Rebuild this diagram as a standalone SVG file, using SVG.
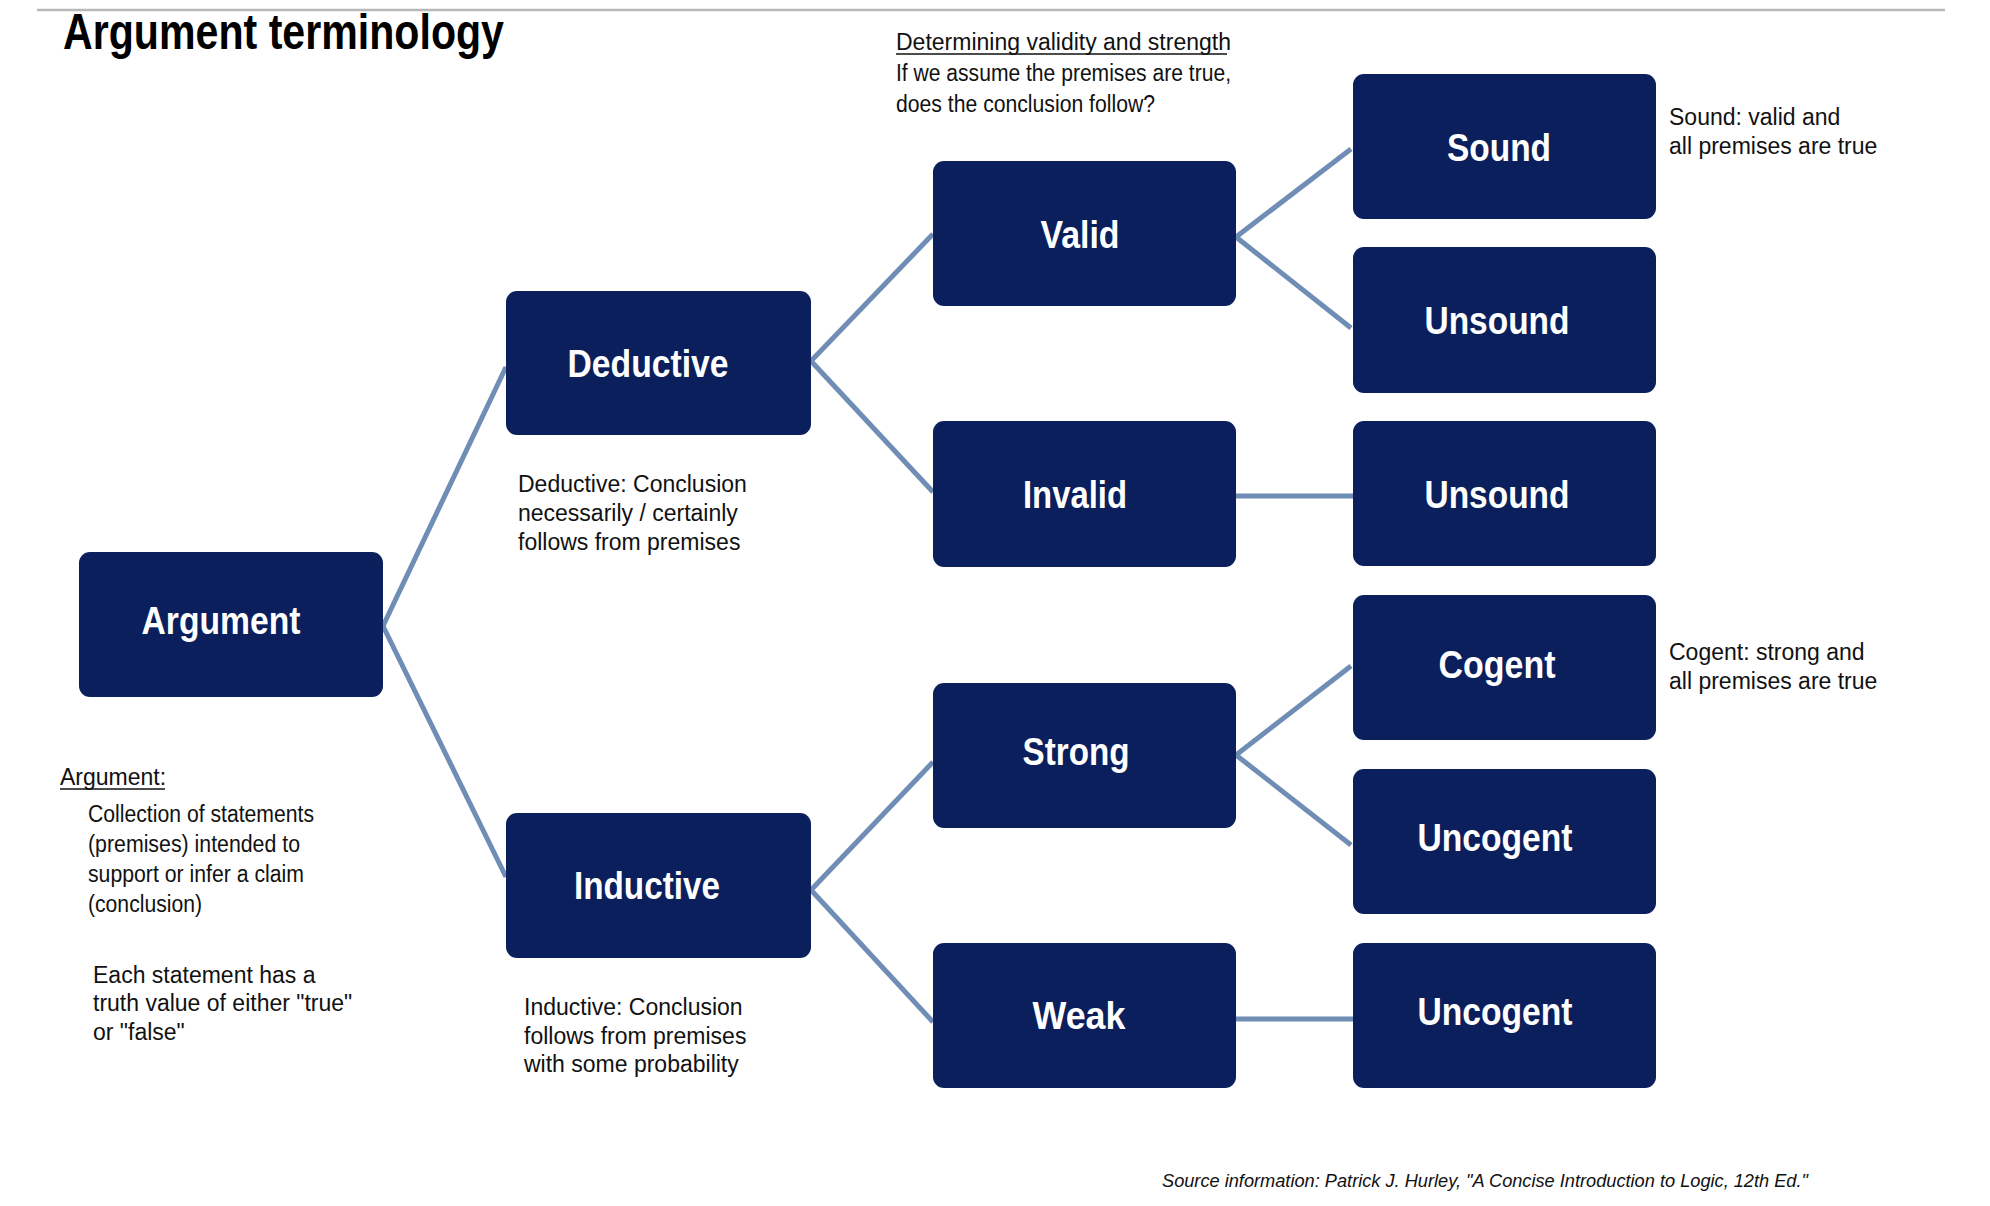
<svg xmlns="http://www.w3.org/2000/svg" width="1990" height="1206" viewBox="0 0 1990 1206">
<style>
.box{fill:#0b1f5c;}
.lbl{font-family:"Liberation Sans",Arial,sans-serif;font-weight:bold;font-size:38px;fill:#ffffff;text-anchor:middle;}
.note{font-family:"Liberation Sans",Arial,sans-serif;font-size:23px;fill:#111111;}
.conn line{stroke:#6f8db5;stroke-width:5;stroke-linecap:butt;}
.ul{stroke:#111111;stroke-width:1.5;}
</style>
<rect width="1990" height="1206" fill="#ffffff"/>
<line x1="37" y1="10" x2="1945" y2="10" stroke="#b8b8b8" stroke-width="2.5"/>
<text x="63" y="49" font-family="'Liberation Sans',Arial,sans-serif" font-weight="bold" font-size="50" fill="#000000" textLength="441" lengthAdjust="spacingAndGlyphs">Argument terminology</text>

<g id="connectors" class="conn">
<line x1="383" y1="626" x2="506" y2="367"/>
<line x1="383" y1="626" x2="506" y2="877"/>
<line x1="811" y1="361" x2="933" y2="234"/>
<line x1="811" y1="361" x2="933" y2="492"/>
<line x1="1236" y1="237" x2="1351" y2="149"/>
<line x1="1236" y1="237" x2="1351" y2="328"/>
<line x1="1236" y1="496" x2="1353" y2="496"/>
<line x1="811" y1="890" x2="933" y2="762"/>
<line x1="811" y1="890" x2="933" y2="1022"/>
<line x1="1236" y1="755" x2="1351" y2="666"/>
<line x1="1236" y1="755" x2="1351" y2="845"/>
<line x1="1236" y1="1019" x2="1353" y2="1019"/>
</g>

<g id="node-argument"><rect class="box" x="79" y="552" width="304" height="145" rx="11"/><text class="lbl" x="221" y="634" textLength="159" lengthAdjust="spacingAndGlyphs">Argument</text></g>
<g id="node-deductive"><rect class="box" x="506" y="291" width="305" height="144" rx="11"/><text class="lbl" x="648" y="377" textLength="161" lengthAdjust="spacingAndGlyphs">Deductive</text></g>
<g id="node-inductive"><rect class="box" x="506" y="813" width="305" height="145" rx="11"/><text class="lbl" x="647" y="899" textLength="146" lengthAdjust="spacingAndGlyphs">Inductive</text></g>
<g id="node-valid"><rect class="box" x="933" y="161" width="303" height="145" rx="11"/><text class="lbl" x="1080" y="248" textLength="79" lengthAdjust="spacingAndGlyphs">Valid</text></g>
<g id="node-invalid"><rect class="box" x="933" y="421" width="303" height="146" rx="11"/><text class="lbl" x="1075" y="508" textLength="104" lengthAdjust="spacingAndGlyphs">Invalid</text></g>
<g id="node-strong"><rect class="box" x="933" y="683" width="303" height="145" rx="11"/><text class="lbl" x="1076" y="765" textLength="107" lengthAdjust="spacingAndGlyphs">Strong</text></g>
<g id="node-weak"><rect class="box" x="933" y="943" width="303" height="145" rx="11"/><text class="lbl" x="1079" y="1029" textLength="93" lengthAdjust="spacingAndGlyphs">Weak</text></g>
<g id="node-sound"><rect class="box" x="1353" y="74" width="303" height="145" rx="11"/><text class="lbl" x="1499" y="161" textLength="104" lengthAdjust="spacingAndGlyphs">Sound</text></g>
<g id="node-unsound-1"><rect class="box" x="1353" y="247" width="303" height="146" rx="11"/><text class="lbl" x="1497" y="334" textLength="145" lengthAdjust="spacingAndGlyphs">Unsound</text></g>
<g id="node-unsound-2"><rect class="box" x="1353" y="421" width="303" height="145" rx="11"/><text class="lbl" x="1497" y="508" textLength="145" lengthAdjust="spacingAndGlyphs">Unsound</text></g>
<g id="node-cogent"><rect class="box" x="1353" y="595" width="303" height="145" rx="11"/><text class="lbl" x="1497" y="678" textLength="117" lengthAdjust="spacingAndGlyphs">Cogent</text></g>
<g id="node-uncogent-1"><rect class="box" x="1353" y="769" width="303" height="145" rx="11"/><text class="lbl" x="1495" y="851" textLength="155" lengthAdjust="spacingAndGlyphs">Uncogent</text></g>
<g id="node-uncogent-2"><rect class="box" x="1353" y="943" width="303" height="145" rx="11"/><text class="lbl" x="1495" y="1025" textLength="155" lengthAdjust="spacingAndGlyphs">Uncogent</text></g>

<g id="note-determining">
<text class="note" x="896" y="50">Determining validity and strength</text>
<line class="ul" x1="896" y1="54" x2="1227" y2="54"/>
<text class="note" x="896" y="81" textLength="335" lengthAdjust="spacingAndGlyphs">If we assume the premises are true,</text>
<text class="note" x="896" y="112" textLength="259" lengthAdjust="spacingAndGlyphs">does the conclusion follow?</text>
</g>
<g id="note-sound">
<text class="note" x="1669" y="125">Sound: valid and</text>
<text class="note" x="1669" y="154">all premises are true</text>
</g>
<g id="note-cogent">
<text class="note" x="1669" y="660">Cogent: strong and</text>
<text class="note" x="1669" y="689">all premises are true</text>
</g>
<g id="note-deductive">
<text class="note" x="518" y="492">Deductive: Conclusion</text>
<text class="note" x="518" y="521">necessarily / certainly</text>
<text class="note" x="518" y="550">follows from premises</text>
</g>
<g id="note-inductive">
<text class="note" x="524" y="1015">Inductive: Conclusion</text>
<text class="note" x="524" y="1044">follows from premises</text>
<text class="note" x="524" y="1072">with some probability</text>
</g>
<g id="note-argument">
<text class="note" x="60" y="785">Argument:</text>
<line class="ul" x1="60" y1="789" x2="165" y2="789"/>
<text class="note" x="88" y="822" textLength="226" lengthAdjust="spacingAndGlyphs">Collection of statements</text>
<text class="note" x="88" y="852" textLength="212" lengthAdjust="spacingAndGlyphs">(premises) intended to</text>
<text class="note" x="88" y="882" textLength="216" lengthAdjust="spacingAndGlyphs">support or infer a claim</text>
<text class="note" x="88" y="912" textLength="114" lengthAdjust="spacingAndGlyphs">(conclusion)</text>
<text class="note" x="93" y="983">Each statement has a</text>
<text class="note" x="93" y="1011">truth value of either "true"</text>
<text class="note" x="93" y="1040">or "false"</text>
</g>
<text x="1162" y="1187" font-family="'Liberation Sans',Arial,sans-serif" font-style="italic" font-size="18.5" fill="#111111" textLength="646" lengthAdjust="spacingAndGlyphs">Source information: Patrick J. Hurley, "A Concise Introduction to Logic, 12th Ed."</text>
</svg>
